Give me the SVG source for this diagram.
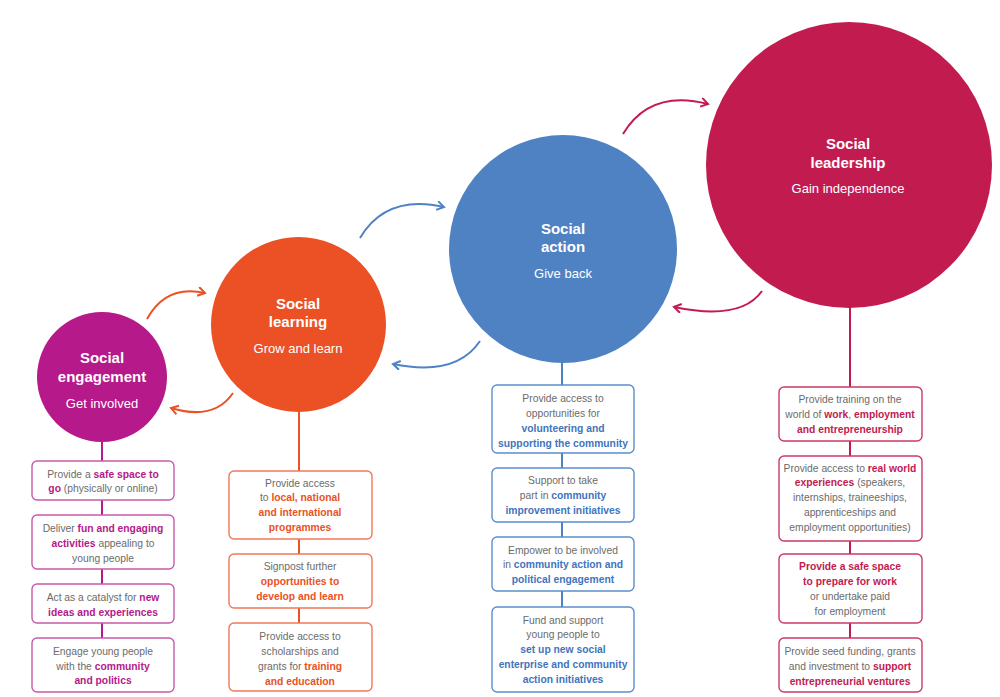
<svg xmlns="http://www.w3.org/2000/svg" width="1000" height="697" viewBox="0 0 1000 697">
<style>
.t{font-family:"Liberation Sans",Arial,sans-serif;font-size:10.3px;fill:#6b6b6b;text-anchor:middle}
.b{font-weight:bold}
.m{fill:#B5198A}.o{fill:#EB5125}.u{fill:#3F74BE}.r{fill:#C21B50}
.ct{font-family:"Liberation Sans",Arial,sans-serif;font-size:15px;font-weight:bold;fill:#fff;text-anchor:middle}
.cs{font-family:"Liberation Sans",Arial,sans-serif;font-size:13px;fill:#fff;text-anchor:middle}
.bx{fill:#fff;stroke-width:1.4}
.bm{stroke:#C75AAB}.bo{stroke:#F0785A}.bu{stroke:#5A8ECB}.br{stroke:#CB3A66}
.ln{stroke-width:2;fill:none}
.arr{fill:none;stroke-width:2}
</style>
<defs>
<marker id="am" markerWidth="12" markerHeight="12" refX="8" refY="5" orient="auto" markerUnits="userSpaceOnUse"><path d="M1,0.5 L8,5 L1,9.5" fill="none" stroke="#B5198A" stroke-width="2"/></marker>
<marker id="ao" markerWidth="12" markerHeight="12" refX="8" refY="5" orient="auto" markerUnits="userSpaceOnUse"><path d="M1,0.5 L8,5 L1,9.5" fill="none" stroke="#EB5125" stroke-width="2"/></marker>
<marker id="au" markerWidth="12" markerHeight="12" refX="8" refY="5" orient="auto" markerUnits="userSpaceOnUse"><path d="M1,0.5 L8,5 L1,9.5" fill="none" stroke="#4F82C3" stroke-width="2"/></marker>
<marker id="ar" markerWidth="12" markerHeight="12" refX="8" refY="5" orient="auto" markerUnits="userSpaceOnUse"><path d="M1,0.5 L8,5 L1,9.5" fill="none" stroke="#C21B50" stroke-width="2"/></marker>
</defs>

<g id="connectors">
<path class="arr" stroke="#EB5125" marker-end="url(#ao)" d="M147,319 Q166,284 205,293"/>
<path class="arr" stroke="#EB5125" marker-end="url(#ao)" d="M233,393 Q214,421 171,408"/>
<path class="arr" stroke="#4F82C3" marker-end="url(#au)" d="M360,238 Q386,194 444,207"/>
<path class="arr" stroke="#4F82C3" marker-end="url(#au)" d="M480,341 Q456,377 393,364"/>
<path class="arr" stroke="#C21B50" marker-end="url(#ar)" d="M623,134 Q650,89 708,104"/>
<path class="arr" stroke="#C21B50" marker-end="url(#ar)" d="M762,291 Q741,321 674,307"/>
<line class="ln" stroke="#B5198A" x1="102" y1="440" x2="102" y2="638"/>
<line class="ln" stroke="#EB5125" x1="299" y1="410" x2="299" y2="623"/>
<line class="ln" stroke="#4F82C3" x1="562" y1="361" x2="562" y2="607"/>
<line class="ln" stroke="#C21B50" x1="850" y1="306" x2="850" y2="638"/>
</g>

<g id="social-engagement">
<circle cx="102" cy="377" r="65" fill="#B5198A"/>
<text class="ct" x="102" y="363">Social</text>
<text class="ct" x="102" y="382">engagement</text>
<text class="cs" x="102" y="408">Get involved</text>
</g>
<g id="social-learning">
<circle cx="298.5" cy="324.5" r="87.5" fill="#EB5125"/>
<text class="ct" x="298" y="309">Social</text>
<text class="ct" x="298" y="327">learning</text>
<text class="cs" x="298" y="353">Grow and learn</text>
</g>
<g id="social-action">
<circle cx="563" cy="249" r="114" fill="#4F82C3"/>
<text class="ct" x="563" y="234">Social</text>
<text class="ct" x="563" y="252">action</text>
<text class="cs" x="563" y="278">Give back</text>
</g>
<g id="social-leadership">
<circle cx="849" cy="165" r="143" fill="#C21B50"/>
<text class="ct" x="848" y="149">Social</text>
<text class="ct" x="848" y="168">leadership</text>
<text class="cs" x="848" y="193">Gain independence</text>
</g>

<g id="e1">
<rect class="bx bm" x="32" y="461" width="142" height="39" rx="5"/>
<text class="t" x="103" y="477.7">Provide a <tspan class="b m">safe space to</tspan></text>
<text class="t" x="103" y="491.7"><tspan class="b m">go</tspan> (physically or online)</text>
</g>
<g id="e2">
<rect class="bx bm" x="32" y="515" width="142" height="54" rx="5"/>
<text class="t" x="103" y="531.7">Deliver <tspan class="b m">fun and engaging</tspan></text>
<text class="t" x="103" y="546.7"><tspan class="b m">activities</tspan> appealing to</text>
<text class="t" x="103" y="561.7">young people</text>
</g>
<g id="e3">
<rect class="bx bm" x="32" y="584" width="142" height="39" rx="5"/>
<text class="t" x="103" y="600.7">Act as a catalyst for <tspan class="b m">new</tspan></text>
<text class="t" x="103" y="615.7"><tspan class="b m">ideas and experiences</tspan></text>
</g>
<g id="e4">
<rect class="bx bm" x="32" y="638" width="142" height="54" rx="5"/>
<text class="t" x="103" y="654.7">Engage young people</text>
<text class="t" x="103" y="669.7">with the <tspan class="b m">community</tspan></text>
<text class="t" x="103" y="683.7"><tspan class="b m">and politics</tspan></text>
</g>

<g id="l1">
<rect class="bx bo" x="229" y="471" width="143" height="68" rx="5"/>
<text class="t" x="300" y="486.7">Provide access</text>
<text class="t" x="300" y="500.7">to <tspan class="b o">local, national</tspan></text>
<text class="t" x="300" y="515.7"><tspan class="b o">and international</tspan></text>
<text class="t" x="300" y="530.7"><tspan class="b o">programmes</tspan></text>
</g>
<g id="l2">
<rect class="bx bo" x="229" y="554" width="143" height="54" rx="5"/>
<text class="t" x="300" y="570.4">Signpost further</text>
<text class="t" x="300" y="584.7"><tspan class="b o">opportunities to</tspan></text>
<text class="t" x="300" y="599.7"><tspan class="b o">develop and learn</tspan></text>
</g>
<g id="l3">
<rect class="bx bo" x="229" y="623" width="143" height="68" rx="5"/>
<text class="t" x="300" y="639.7">Provide access to</text>
<text class="t" x="300" y="654.7">scholarships and</text>
<text class="t" x="300" y="669.7">grants for <tspan class="b o">training</tspan></text>
<text class="t" x="300" y="684.7"><tspan class="b o">and education</tspan></text>
</g>

<g id="a1">
<rect class="bx bu" x="492" y="385" width="142" height="68" rx="5"/>
<text class="t" x="563" y="401.7">Provide access to</text>
<text class="t" x="563" y="416.7">opportunities for</text>
<text class="t" x="563" y="431.7"><tspan class="b u">volunteering and</tspan></text>
<text class="t" x="563" y="446.7"><tspan class="b u">supporting the community</tspan></text>
</g>
<g id="a2">
<rect class="bx bu" x="492" y="468" width="142" height="54" rx="5"/>
<text class="t" x="563" y="483.7">Support to take</text>
<text class="t" x="563" y="499.2">part in <tspan class="b u">community</tspan></text>
<text class="t" x="563" y="513.7"><tspan class="b u">improvement initiatives</tspan></text>
</g>
<g id="a3">
<rect class="bx bu" x="492" y="537" width="142" height="54" rx="5"/>
<text class="t" x="563" y="553.7">Empower to be involved</text>
<text class="t" x="563" y="567.7">in <tspan class="b u">community action and</tspan></text>
<text class="t" x="563" y="582.7"><tspan class="b u">political engagement</tspan></text>
</g>
<g id="a4">
<rect class="bx bu" x="492" y="607" width="142" height="85" rx="5"/>
<text class="t" x="563" y="623.7">Fund and support</text>
<text class="t" x="563" y="637.7">young people to</text>
<text class="t" x="563" y="652.7"><tspan class="b u">set up new social</tspan></text>
<text class="t" x="563" y="667.7"><tspan class="b u">enterprise and community</tspan></text>
<text class="t" x="563" y="682.7"><tspan class="b u">action initiatives</tspan></text>
</g>

<g id="s1">
<rect class="bx br" x="779" y="387" width="143" height="54" rx="5"/>
<text class="t" x="850" y="402.7">Provide training on the</text>
<text class="t" x="850" y="417.7">world of <tspan class="b r">work</tspan>, <tspan class="b r">employment</tspan></text>
<text class="t" x="850" y="432.7"><tspan class="b r">and entrepreneurship</tspan></text>
</g>
<g id="s2">
<rect class="bx br" x="779" y="456" width="143" height="85" rx="5"/>
<text class="t" x="850" y="471.7">Provide access to <tspan class="b r">real world</tspan></text>
<text class="t" x="850" y="486.4"><tspan class="b r">experiences</tspan> (speakers,</text>
<text class="t" x="850" y="500.7">internships, traineeships,</text>
<text class="t" x="850" y="515.7">apprenticeships and</text>
<text class="t" x="850" y="530.7">employment opportunities)</text>
</g>
<g id="s3">
<rect class="bx br" x="779" y="554" width="143" height="69" rx="5"/>
<text class="t" x="850" y="570.4"><tspan class="b r">Provide a safe space</tspan></text>
<text class="t" x="850" y="584.7"><tspan class="b r">to prepare for work</tspan></text>
<text class="t" x="850" y="599.7">or undertake paid</text>
<text class="t" x="850" y="614.7">for employment</text>
</g>
<g id="s4">
<rect class="bx br" x="779" y="638" width="143" height="54" rx="5"/>
<text class="t" x="850" y="654.7">Provide seed funding, grants</text>
<text class="t" x="850" y="669.7">and investment to <tspan class="b r">support</tspan></text>
<text class="t" x="850" y="684.7"><tspan class="b r">entrepreneurial ventures</tspan></text>
</g>
</svg>
